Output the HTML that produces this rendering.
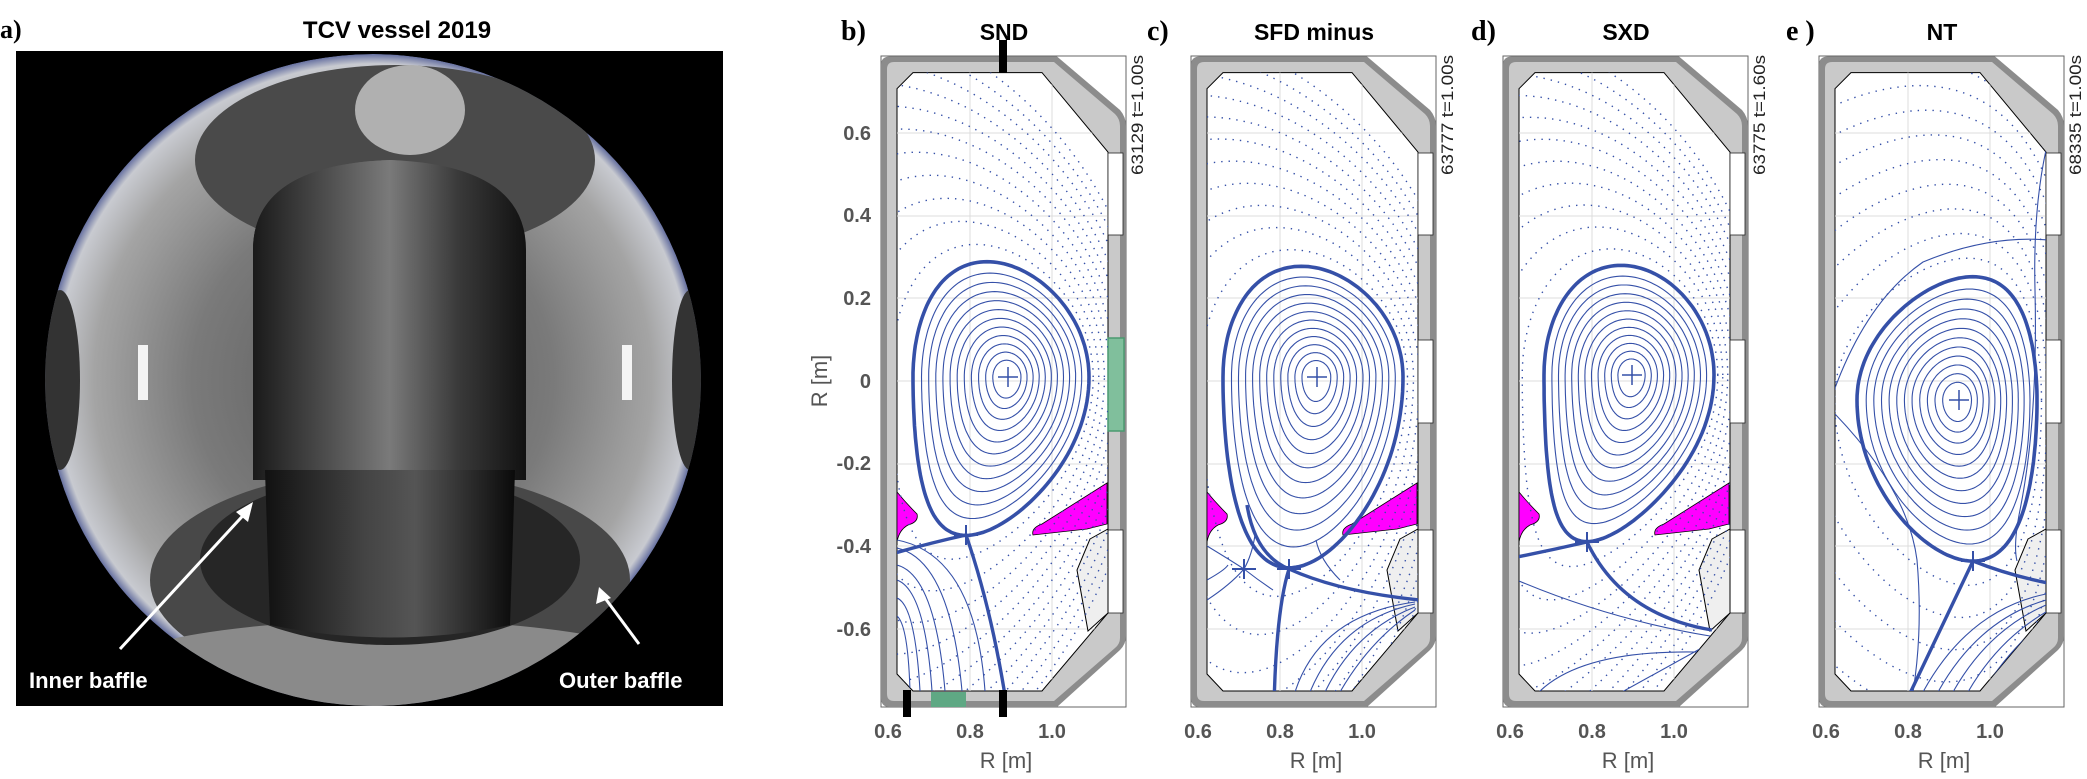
<!DOCTYPE html>
<html><head><meta charset="utf-8">
<style>
html,body{margin:0;padding:0;background:#fff;width:2087px;height:779px;overflow:hidden;}
svg{display:block;}
text{font-family:"Liberation Sans",sans-serif;}
</style></head>
<body>
<svg id="s" width="2087" height="779" viewBox="0 0 2087 779" xmlns="http://www.w3.org/2000/svg">
<defs>
  <radialGradient id="fish" cx="0.5" cy="0.5" r="0.5">
    <stop offset="0" stop-color="#5a5a5a"/>
    <stop offset="0.55" stop-color="#7a7a7a"/>
    <stop offset="0.85" stop-color="#a4a4a4"/>
    <stop offset="0.97" stop-color="#c8cad0"/>
    <stop offset="1" stop-color="#6670a0"/>
  </radialGradient>
  <linearGradient id="col" x1="0" x2="1" y1="0" y2="0">
    <stop offset="0" stop-color="#1a1a1a"/>
    <stop offset="0.25" stop-color="#4a4a4a"/>
    <stop offset="0.5" stop-color="#7a7a7a"/>
    <stop offset="0.75" stop-color="#3a3a3a"/>
    <stop offset="1" stop-color="#111"/>
  </linearGradient>
  <linearGradient id="col2" x1="0" x2="1" y1="0" y2="0">
    <stop offset="0" stop-color="#111"/>
    <stop offset="0.4" stop-color="#444"/>
    <stop offset="0.6" stop-color="#555"/>
    <stop offset="1" stop-color="#0a0a0a"/>
  </linearGradient>
  <clipPath id="inner"><path d="M913,72.6 L1042,72.6 L1108,152 L1108,613 L1042,691 L913,691 L897,674 L897,88.7 Z"/></clipPath>
  <clipPath id="fishclip"><ellipse cx="373" cy="380" rx="328" ry="326"/></clipPath>
</defs>

<text x="0" y="38" font-weight="bold" font-size="26" style="font-family:'Liberation Serif',serif">a)</text>
<text x="397" y="38" text-anchor="middle" font-weight="bold" font-size="24">TCV vessel 2019</text>
<rect x="16" y="51" width="707" height="655" fill="#000"/>
<g clip-path="url(#fishclip)">
  <ellipse cx="373" cy="380" rx="328" ry="326" fill="url(#fish)"/>
  <ellipse cx="395" cy="160" rx="200" ry="95" fill="#4a4a4a"/>
  <ellipse cx="410" cy="110" rx="55" ry="45" fill="#b0b0b0"/>
  <ellipse cx="390" cy="580" rx="240" ry="110" fill="#484848"/>
  <ellipse cx="390" cy="680" rx="300" ry="60" fill="#8a8a8a"/>
  <ellipse cx="390" cy="560" rx="190" ry="85" fill="#262626"/>
  <path d="M253,250 Q253,165 390,160 Q526,165 526,480 L253,480 Z" fill="url(#col)"/>
  <path d="M253,250 Q253,165 390,160 Q526,165 526,250 L526,480 L253,480 Z" fill="url(#col)"/>
  <path d="M265,470 L515,470 L510,625 Q390,650 270,625 Z" fill="url(#col2)"/>
  <rect x="138" y="345" width="10" height="55" fill="#f4f4f4"/>
  <rect x="622" y="345" width="10" height="55" fill="#f4f4f4"/>
  <ellipse cx="60" cy="380" rx="20" ry="90" fill="#333"/>
  <ellipse cx="690" cy="380" rx="18" ry="90" fill="#333"/>
</g>
<line x1="120" y1="649" x2="250" y2="508" stroke="#fff" stroke-width="3"/>
<polygon points="253,502 236,512 248,522" fill="#fff"/>
<line x1="639" y1="644" x2="602" y2="594" stroke="#fff" stroke-width="3"/>
<polygon points="599,587 596,604 611,598" fill="#fff"/>
<text x="29" y="688" fill="#fff" font-weight="bold" font-size="22">Inner baffle</text>
<text x="559" y="688" fill="#fff" font-weight="bold" font-size="22">Outer baffle</text>

<g font-weight="bold" font-size="20" fill="#555" text-anchor="end">
  <text x="871" y="140">0.6</text>
  <text x="871" y="222">0.4</text>
  <text x="871" y="305">0.2</text>
  <text x="871" y="388">0</text>
  <text x="871" y="470">-0.2</text>
  <text x="871" y="553">-0.4</text>
  <text x="871" y="636">-0.6</text>
</g>
<text transform="translate(827,381) rotate(-90)" text-anchor="middle" font-size="22" fill="#555">R [m]</text>

<g id="panels"></g>
</svg>

<script>
const NS='http://www.w3.org/2000/svg';
const root=document.getElementById('panels');
function el(tag,attrs,parent,txt){const e=document.createElementNS(NS,tag);for(const k in attrs)e.setAttribute(k,attrs[k]);if(txt!==undefined)e.textContent=txt;(parent||root).appendChild(e);return e;}
function miller(p,s,shift){shift=shift||0;let d='';for(let i=0;i<=160;i++){const t=i/160*2*Math.PI;const up=Math.sin(t)>=0;const sc=Math.min(s,1);const dd=(up?p.dT:p.dB)*sc;let k=up?p.kT:p.kB;k=1+(k-1)*(0.55+0.45*sc);const cx=p.ax+(p.cx-p.ax)*sc+shift;const cy=p.ay+(p.cy-p.ay)*sc;const x=cx+s*p.a*Math.cos(t+dd*Math.sin(t));const y=cy-s*p.a*k*Math.sin(t);d+=(i?'L':'M')+x.toFixed(1)+','+y.toFixed(1);}return d+'Z';}

const panels=[
 {dx:0,letter:'b)',lx:841,title:'SND',shot:'63129 t=1.00s',green:true,mag:true,
  p:{cx:1001,cy:377,ax:1008,ay:377,a:88,kT:1.31,kB:1.8,dT:0.16,dB:0.41},
  legs:['M966,535 Q930,543 895,553','M966,535 Q992,610 1007,708'],
  thin:['M897,565 Q935,575 945,691','M897,580 Q925,590 932,691','M897,598 Q915,605 920,691','M897,616 Q908,625 910,691','M897,548 Q950,560 962,691','M897,540 Q975,555 985,691'],
  x:[966,535]},
 {dx:310,letter:'c)',lx:1147,title:'SFD minus',shot:'63777 t=1.00s',mag:true,
  p:{cx:1003,cy:377,ax:1007,ay:377,a:90,kT:1.23,kB:2.12,dT:0.13,dB:0.27},
  legs:['M979,569 Q966,610 964,708','M979,569 Q1030,592 1110,600','M937,505 Q945,555 979,569'],
  thin:['M897,546 Q920,560 934,569 Q948,580 963,590','M897,600 Q920,585 934,569 Q942,555 945,535','M897,580 Q915,570 918,565','M1006,540 Q1010,560 1030,580','M1000,692 Q1030,620 1105,604','M1015,692 Q1045,630 1105,607','M1030,692 Q1060,640 1105,610','M985,692 Q1010,615 1105,602'],
  x:[979,569],x2:[934,569]},
 {dx:622,letter:'d)',lx:1471,title:'SXD',shot:'63775 t=1.60s',mag:true,
  p:{cx:1007,cy:375,ax:1010,ay:375,a:85,kT:1.29,kB:1.96,dT:0.094,dB:0.52},
  legs:['M965,542 Q930,550 895,557','M965,542 Q1000,615 1090,630'],
  thin:['M897,581 Q990,620 1088,636','M917,692 Q960,650 1075,652','M1000,692 Q1040,670 1085,645'],
  x:[965,542]},
 {dx:938,letter:'e )',lx:1786,title:'NT',shot:'68335 t=1.00s',mag:false,
  p:{cx:1009,cy:400,ax:1021,ay:400,a:90,kT:1.37,kB:1.79,dT:-0.29,dB:-0.29},
  legs:['M1035,561 L965,708','M1035,561 Q1070,575 1110,583'],
  thin:['M897,388 Q930,300 985,262 Q1050,235 1110,240','M897,414 Q970,490 979,560 Q985,630 975,692','M1108,150 Q1095,210 1097,290 Q1100,420 1082,510 Q1075,545 1079,561','M1000,692 Q1040,620 1108,600','M1015,692 Q1050,630 1108,605','M1030,692 Q1060,640 1108,612','M1045,692 Q1070,650 1108,620','M985,692 Q1030,610 1108,594'],
  x:[1035,561]}
];

panels.forEach(P=>{
  const g=el('g',{transform:'translate('+P.dx+',0)'});
  el('text',{x:P.lx-P.dx,y:40,'font-size':28,'font-weight':'bold',style:"font-family:'Liberation Serif',serif"},g,P.letter);
  el('text',{x:1004,y:40,'font-size':23,'font-weight':'bold','text-anchor':'middle'},g,P.title);
  el('rect',{x:881,y:56,width:245,height:651,fill:'none',stroke:'#666','stroke-width':1},g);
  el('path',{d:'M890,56.5 L1057,56.5 L1120,110 Q1126,117 1126,126 L1126,636 Q1126,644 1120,650 L1057,707 L890,707 Q881,707 881,698 L881,65 Q881,56.5 890,56.5 Z',fill:'#8c8c8c'},g);
  el('path',{d:'M894,62 L1054,62 L1115,114 Q1120,119 1120,126 L1120,638 Q1120,644 1115,648 L1054,701 L894,701 Q887,701 887,694 L887,69 Q887,62 894,62 Z',fill:'#c9c9c9'},g);
  el('path',{d:'M913,72.6 L1042,72.6 L1108,152 L1108,613 L1042,691 L913,691 L897,674 L897,88.7 Z',fill:'#fff',stroke:'#000','stroke-width':1},g);
  const gg=el('g',{'clip-path':'url(#inner)',stroke:'#dcdcdc','stroke-width':1},g);
  [970,1052].forEach(x=>el('line',{x1:x,y1:60,x2:x,y2:700},gg));
  [133,216,298,381,464,546,629].forEach(y=>el('line',{x1:890,y1:y,x2:1110,y2:y},gg));
  el('rect',{x:1108,y:153,width:15,height:82,fill:'#fff',stroke:'#222','stroke-width':0.8},g);
  if(P.green) el('rect',{x:1108,y:338,width:16,height:93,fill:'#80bf9c',stroke:'#4a9a70','stroke-width':1.5},g);
  else el('rect',{x:1108,y:340,width:15,height:83,fill:'#fff',stroke:'#222','stroke-width':0.8},g);
  el('rect',{x:1108,y:530,width:15,height:83,fill:'#fff',stroke:'#222','stroke-width':0.8},g);
  el('path',{d:'M1090,539 L1108,529 L1108,613 L1088,631 L1077,570 Z',fill:'#efefef',stroke:'#000','stroke-width':1},g);
  if(P.mag){
    el('path',{d:'M897,492 Q906,503 917,514 Q919,522 908,525 Q899,530 897,542 Z',fill:'#ff00ff',stroke:'#000','stroke-width':0.8},g);
    el('path',{d:'M1033,535 Q1031,528 1042,524 L1107,483 L1107,524 L1087,529 Z',fill:'#ff00ff',stroke:'#000','stroke-width':0.8},g);
  }
  const cg=el('g',{'clip-path':'url(#inner)',fill:'none',stroke:'#3550a8'},g);
  let n=0;
  for(let s=1.15;s<3.2;s+=0.2){n++;el('path',{d:miller(P.p,s,(s-1)*-60),'stroke-width':1.4,'stroke-dasharray':'1.4 6'},cg);}
  for(let s=0.16;s<0.97;s+=0.075){el('path',{d:miller(P.p,s),'stroke-width':1.1},cg);}
  el('path',{d:miller(P.p,1),'stroke-width':3.6},cg);
  P.legs.forEach(d=>el('path',{d:d,'stroke-width':3.4},cg));
  P.thin.forEach(d=>el('path',{d:d,'stroke-width':1.1},cg));
  const xs=[P.x];if(P.x2)xs.push(P.x2);
  xs.forEach(([x,y])=>{el('path',{d:'M'+(x-12)+','+y+' L'+(x+12)+','+y+' M'+x+','+(y-10)+' L'+x+','+(y+10),'stroke-width':2},cg);});
  el('path',{d:'M'+(P.p.ax-10)+','+P.p.ay+' L'+(P.p.ax+10)+','+P.p.ay+' M'+P.p.ax+','+(P.p.ay-10)+' L'+P.p.ax+','+(P.p.ay+10),stroke:'#3550a8','stroke-width':1.5},g);
  if(P.green){
    el('rect',{x:999,y:40,width:8,height:33,fill:'#000'},g);
    el('rect',{x:931,y:692,width:35,height:15,fill:'#5fa884'},g);
    el('rect',{x:903,y:690,width:8,height:27,fill:'#000'},g);
    el('rect',{x:999,y:690,width:8,height:27,fill:'#000'},g);
  }
  el('text',{transform:'translate(1143,175) rotate(-90)','font-size':17,fill:'#222',textLength:120,lengthAdjust:'spacingAndGlyphs'},g,P.shot);
  [[888,'0.6'],[970,'0.8'],[1052,'1.0']].forEach(([x,t])=>el('text',{x:x,y:738,'text-anchor':'middle','font-size':20,'font-weight':'bold',fill:'#555'},g,t));
  el('text',{x:1006,y:768,'text-anchor':'middle','font-size':22,fill:'#555'},g,'R [m]');
});
</script>
</body></html>
